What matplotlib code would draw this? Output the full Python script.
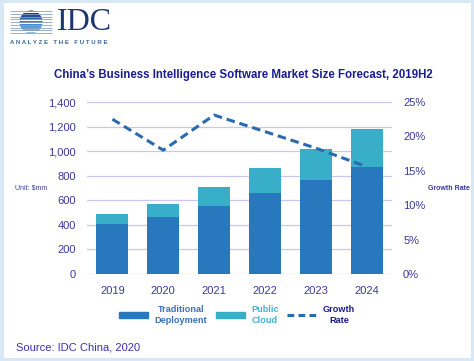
import numpy as np
import matplotlib
matplotlib.use("Agg")
import matplotlib.pyplot as plt
from matplotlib.patches import Rectangle, Circle
from matplotlib.lines import Line2D

plt.rcParams['font.family'] = ['Liberation Sans', 'DejaVu Sans']

# data
years = ['2019', '2020', '2021', '2022', '2023', '2024']
traditional = [405, 461, 556, 657, 762, 868]
public_cloud = [80, 111, 150, 203, 258, 310]
growth = [22.5, 18.0, 23.1, 20.7, 18.3, 15.6]

left_ticks = [0, 200, 400, 600, 800, 1000, 1200, 1400]
right_ticks = [0, 5, 10, 15, 20, 25]

c_trad = '#2878be'
c_cloud = '#38aec9'
c_line = '#2a6bb0'
c_text = '#3a3a9a'
c_grid = '#cbc6ee'

W, H = 474, 361
fig = plt.figure(figsize=(W / 100, H / 100), dpi=100)

# background canvas in pixel coordinates (border + logo)
bg = fig.add_axes([0, 0, 1, 1])
bg.set_xlim(0, W)
bg.set_ylim(H, 0)
bg.axis('off')
edge = '#d8e8f7'
bg.add_patch(Rectangle((0, 0), W, 3, color=edge, lw=0))
bg.add_patch(Rectangle((0, 0), 4, H, color=edge, lw=0))
bg.add_patch(Rectangle((W - 3, 0), 3, H, color=edge, lw=0))
bg.add_patch(Rectangle((0, H - 3), W, 3, color=edge, lw=0))

# IDC logo
for i, yy in enumerate(np.linspace(11, 33, 9)):
    bg.plot([10, 52], [yy, yy], color='#8aa2c4', lw=0.6, solid_capstyle='butt')
globe = Circle((31, 22), 11.5, transform=bg.transData)
stripe_cols = ['#1d3f7c', '#1d3f7c', '#24508f', '#2d63a6', '#3a78bb',
               '#4a8ccb', '#5c9dd6', '#73b0e0', '#8cc2ea']
for i, yy in enumerate(np.linspace(11, 33, 9)):
    r = bg.add_patch(Rectangle((18, yy - 1.1), 26, 2.2,
                               color=stripe_cols[i], lw=0))
    r.set_clip_path(globe)
bg.text(57, 23, 'IDC', fontsize=23, family='Liberation Serif',
        color='#1d3570', va='center', ha='left')
bg.text(10, 42, 'A N A L Y Z E   T H E   F U T U R E', fontsize=4.4,
        color='#3a6a9c', fontweight='bold', va='center', ha='left')

# title and notes
fig.text(243 / W, 1 - 75 / H,
         "China\u2019s Business Intelligence Software Market Size Forecast, 2019H2",
         ha='center', va='center', fontsize=8.3, fontweight='bold',
         color='#1c1c96')
fig.text(15 / W, 1 - 188 / H, 'Unit: $mm', fontsize=5, color=c_text,
         ha='left', va='center')
fig.text(428 / W, 1 - 188 / H, 'Growth Rate', fontsize=5, color=c_text,
         ha='left', va='center', fontweight='bold')
fig.text(16 / W, 1 - 347 / H, 'Source: IDC China, 2020', fontsize=8,
         color='#3b30b0', ha='left', va='center')

ax = fig.add_axes([87 / W, 1 - 274 / H, (392 - 87) / W, (274 - 102) / H])
x = np.arange(len(years))
ax.bar(x, traditional, width=0.63, color=c_trad, zorder=3)
ax.bar(x, public_cloud, width=0.63, bottom=traditional, color=c_cloud, zorder=3)
ax.set_xlim(-0.5, len(years) - 0.5)
ax.set_ylim(0, 1400)
ax.set_yticks(left_ticks)
ax.set_yticklabels(['{:,}'.format(v) for v in left_ticks])
ax.set_xticks(x)
ax.set_xticklabels(years)
ax.yaxis.grid(True, color=c_grid, lw=0.9)
ax.set_axisbelow(True)
for s in ax.spines.values():
    s.set_visible(False)
ax.tick_params(axis='y', length=0, pad=8, labelsize=8, labelcolor=c_text)
ax.tick_params(axis='x', length=0, pad=9, labelsize=8, labelcolor=c_text)

ax2 = ax.twinx()
ax2.plot(x, growth, color=c_line, lw=2.2, dashes=(2.8, 1.6), zorder=4)
ax2.set_ylim(0, 25)
ax2.set_yticks(right_ticks)
ax2.set_yticklabels(['{}%'.format(v) for v in right_ticks])
for s in ax2.spines.values():
    s.set_visible(False)
ax2.tick_params(axis='y', length=0, pad=8, labelsize=8, labelcolor=c_text)

handles = [Rectangle((0, 0), 1, 1, color=c_trad),
           Rectangle((0, 0), 1, 1, color=c_cloud),
           Line2D([0], [0], color=c_line, lw=2.2, dashes=(2.2, 1.4))]
labels = ['Traditional\nDeployment', 'Public\nCloud', 'Growth\nRate']
leg = fig.legend(handles, labels, ncol=3, frameon=False,
                 loc='center', bbox_to_anchor=(237 / W, 1 - 315 / H),
                 prop={'size': 6.6, 'weight': 'bold'},
                 handlelength=3.2, handleheight=0.55, handletextpad=0.7,
                 columnspacing=0.9)
for t, col in zip(leg.get_texts(), ['#3a72b8', '#45b2d2', '#1a1a8c']):
    t.set_color(col)
    t.set_multialignment('center')

fig.savefig('out.png', dpi=100)
